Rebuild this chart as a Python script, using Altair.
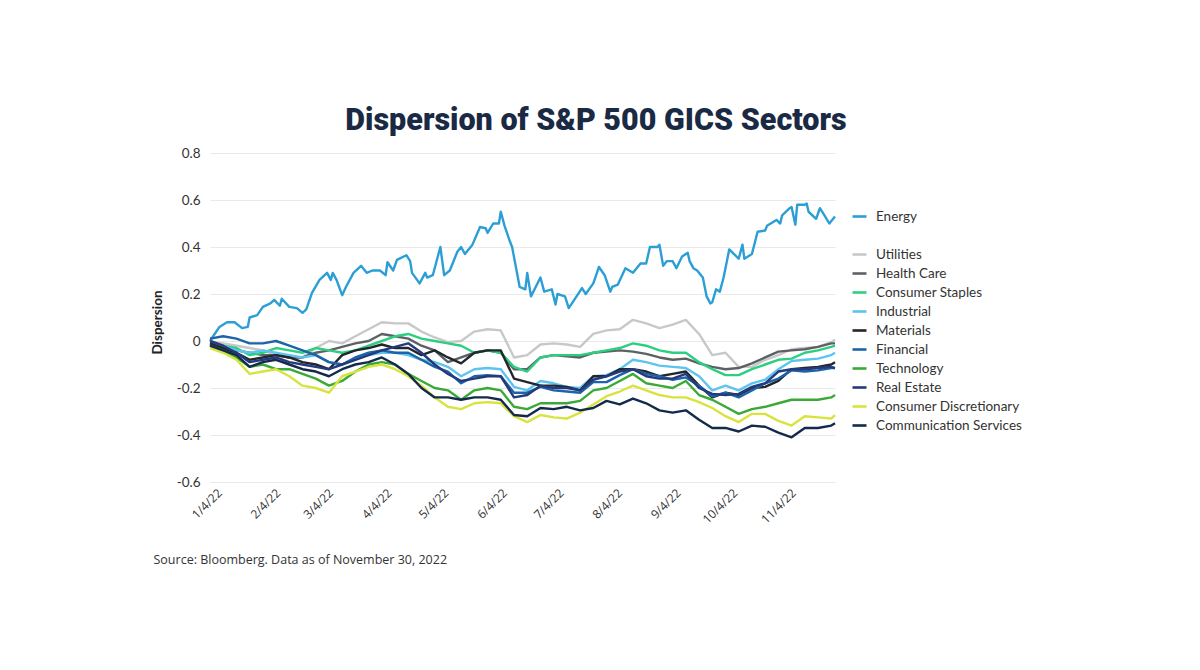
import altair as alt
import pandas as pd

# ---- Energy: daily-resolution readings ----
energy_dates = [
    "2022-01-03", "2022-01-08", "2022-01-12", "2022-01-16", "2022-01-20", "2022-01-23",
    "2022-01-24", "2022-01-28", "2022-01-31", "2022-02-04", "2022-02-06", "2022-02-09",
    "2022-02-10", "2022-02-14", "2022-02-18", "2022-02-21", "2022-02-23", "2022-02-26",
    "2022-03-02", "2022-03-06", "2022-03-08", "2022-03-09", "2022-03-11", "2022-03-14",
    "2022-03-16", "2022-03-20", "2022-03-24", "2022-03-27", "2022-03-30", "2022-04-03",
    "2022-04-06", "2022-04-07", "2022-04-10", "2022-04-12", "2022-04-17", "2022-04-19",
    "2022-04-20", "2022-04-24", "2022-04-27", "2022-04-28", "2022-05-01", "2022-05-04",
    "2022-05-05", "2022-05-07", "2022-05-10", "2022-05-14", "2022-05-16", "2022-05-18",
    "2022-05-22", "2022-05-26", "2022-05-29", "2022-05-30", "2022-06-02", "2022-06-05",
    "2022-06-06", "2022-06-08", "2022-06-11", "2022-06-12", "2022-06-16", "2022-06-19",
    "2022-06-20", "2022-06-22", "2022-06-27", "2022-06-29", "2022-07-03", "2022-07-05",
    "2022-07-06", "2022-07-10", "2022-07-12", "2022-07-19", "2022-07-21", "2022-07-25",
    "2022-07-28", "2022-07-31", "2022-08-03", "2022-08-04", "2022-08-07", "2022-08-11",
    "2022-08-15", "2022-08-19", "2022-08-22", "2022-08-24", "2022-08-28", "2022-08-29",
    "2022-08-31", "2022-09-02", "2022-09-05", "2022-09-07", "2022-09-10", "2022-09-13",
    "2022-09-14", "2022-09-16", "2022-09-18", "2022-09-21", "2022-09-23", "2022-09-25",
    "2022-09-26", "2022-09-28", "2022-09-30", "2022-10-02", "2022-10-05", "2022-10-10",
    "2022-10-12", "2022-10-13", "2022-10-17", "2022-10-20", "2022-10-24", "2022-10-25",
    "2022-10-30", "2022-11-01", "2022-11-02", "2022-11-06", "2022-11-07", "2022-11-09",
    "2022-11-10", "2022-11-14", "2022-11-15", "2022-11-16", "2022-11-20", "2022-11-22",
    "2022-11-24", "2022-11-27", "2022-11-30",
]
energy = [
    0.00, 0.06, 0.08, 0.08, 0.055, 0.06,
    0.10, 0.11, 0.145, 0.16, 0.175, 0.15,
    0.18, 0.145, 0.14, 0.12, 0.135, 0.205,
    0.26, 0.29, 0.26, 0.29, 0.26, 0.195,
    0.23, 0.29, 0.32, 0.29, 0.30, 0.30,
    0.28, 0.335, 0.30, 0.345, 0.365, 0.34,
    0.29, 0.245, 0.29, 0.27, 0.28, 0.37,
    0.40, 0.28, 0.30, 0.38, 0.40, 0.37,
    0.41, 0.485, 0.48, 0.46, 0.50, 0.50,
    0.55, 0.49, 0.42, 0.40, 0.23, 0.22,
    0.29, 0.19, 0.27, 0.21, 0.22, 0.155,
    0.20, 0.19, 0.14, 0.225, 0.20, 0.245,
    0.315, 0.28, 0.21, 0.23, 0.24, 0.31,
    0.29, 0.33, 0.33, 0.40, 0.40, 0.41,
    0.32, 0.34, 0.34, 0.31, 0.36, 0.375,
    0.34, 0.31, 0.30, 0.27, 0.19, 0.16,
    0.165, 0.22, 0.21, 0.27, 0.39, 0.35,
    0.41, 0.35, 0.37, 0.465, 0.47, 0.49,
    0.515, 0.50, 0.535, 0.565, 0.57, 0.495,
    0.58, 0.58, 0.585, 0.55, 0.52, 0.565,
    0.54, 0.50, 0.53,
]

# ---- Other sectors: weekly readings ----
week_dates = [
    "2022-01-03", "2022-01-10", "2022-01-17", "2022-01-24", "2022-01-31",
    "2022-02-07", "2022-02-14", "2022-02-21", "2022-02-28", "2022-03-07",
    "2022-03-14", "2022-03-21", "2022-03-28", "2022-04-04", "2022-04-11",
    "2022-04-18", "2022-04-25", "2022-05-02", "2022-05-09", "2022-05-16",
    "2022-05-23", "2022-05-30", "2022-06-06", "2022-06-13", "2022-06-20",
    "2022-06-27", "2022-07-04", "2022-07-11", "2022-07-18", "2022-07-25",
    "2022-08-01", "2022-08-08", "2022-08-15", "2022-08-22", "2022-08-29",
    "2022-09-05", "2022-09-12", "2022-09-19", "2022-09-26", "2022-10-03",
    "2022-10-10", "2022-10-17", "2022-10-24", "2022-10-31", "2022-11-07",
    "2022-11-14", "2022-11-21", "2022-11-28", "2022-11-30",
]
utilities = [
    0.00, -0.01, -0.02, -0.03, -0.04, -0.06, -0.07, -0.07, -0.03, 0.00,
    -0.01, 0.02, 0.05, 0.08, 0.075, 0.075, 0.04, 0.015, -0.005, 0.00,
    0.04, 0.05, 0.045, -0.07, -0.06, -0.015, -0.01, -0.015, -0.025, 0.03,
    0.045, 0.05, 0.09, 0.075, 0.055, 0.07, 0.09, 0.03, -0.06, -0.05,
    -0.11, -0.11, -0.08, -0.06, -0.035, -0.03, -0.025, -0.005, 0.005,
]
health_care = [
    -0.01, -0.03, -0.04, -0.05, -0.06, -0.06, -0.07, -0.07, -0.05, -0.04,
    -0.025, -0.01, 0.00, 0.03, 0.02, 0.01, -0.02, -0.04, -0.09, -0.07,
    -0.05, -0.04, -0.05, -0.12, -0.12, -0.07, -0.06, -0.065, -0.07, -0.05,
    -0.045, -0.04, -0.045, -0.055, -0.07, -0.08, -0.075, -0.095, -0.11, -0.12,
    -0.115, -0.095, -0.07, -0.045, -0.04, -0.035, -0.025, -0.01, -0.01,
]
consumer_staples = [
    -0.02, -0.02, -0.03, -0.06, -0.05, -0.03, -0.04, -0.05, -0.03, -0.04,
    -0.05, -0.04, -0.02, 0.00, 0.02, 0.03, 0.01, 0.00, -0.01, -0.02,
    -0.05, -0.04, -0.05, -0.11, -0.13, -0.07, -0.06, -0.06, -0.06, -0.05,
    -0.04, -0.03, -0.01, -0.02, -0.04, -0.05, -0.05, -0.09, -0.12, -0.145,
    -0.145, -0.12, -0.10, -0.08, -0.075, -0.05, -0.04, -0.025, -0.02,
]
industrial = [
    -0.01, -0.02, -0.04, -0.05, -0.04, -0.05, -0.06, -0.07, -0.06, -0.09,
    -0.10, -0.07, -0.06, -0.05, -0.05, -0.06, -0.08, -0.09, -0.11, -0.15,
    -0.12, -0.115, -0.12, -0.195, -0.21, -0.17, -0.18, -0.195, -0.20, -0.15,
    -0.145, -0.12, -0.08, -0.09, -0.105, -0.11, -0.115, -0.15, -0.21, -0.19,
    -0.21, -0.18, -0.165, -0.12, -0.085, -0.08, -0.075, -0.06, -0.05,
]
materials = [
    -0.01, -0.03, -0.05, -0.08, -0.07, -0.06, -0.07, -0.09, -0.10, -0.12,
    -0.06, -0.04, -0.03, -0.015, -0.03, -0.03, -0.06, -0.04, -0.07, -0.095,
    -0.05, -0.04, -0.04, -0.16, -0.175, -0.19, -0.19, -0.195, -0.21, -0.15,
    -0.15, -0.12, -0.12, -0.13, -0.15, -0.14, -0.13, -0.19, -0.24, -0.22,
    -0.23, -0.20, -0.195, -0.17, -0.12, -0.115, -0.11, -0.10, -0.09,
]
financial = [
    0.01, 0.02, 0.01, -0.01, -0.01, 0.00, -0.02, -0.04, -0.06, -0.09,
    -0.10, -0.07, -0.05, -0.04, -0.05, -0.05, -0.08, -0.11, -0.13, -0.18,
    -0.15, -0.145, -0.15, -0.22, -0.22, -0.195, -0.21, -0.215, -0.22, -0.175,
    -0.175, -0.145, -0.12, -0.14, -0.15, -0.165, -0.155, -0.19, -0.235, -0.22,
    -0.24, -0.21, -0.18, -0.16, -0.125, -0.13, -0.125, -0.115, -0.115,
]
technology = [
    -0.02, -0.04, -0.07, -0.11, -0.10, -0.12, -0.12, -0.14, -0.16, -0.19,
    -0.17, -0.13, -0.10, -0.09, -0.10, -0.14, -0.17, -0.20, -0.21, -0.25,
    -0.21, -0.20, -0.21, -0.28, -0.29, -0.265, -0.265, -0.265, -0.255, -0.21,
    -0.20, -0.17, -0.14, -0.18, -0.19, -0.20, -0.17, -0.23, -0.25, -0.28,
    -0.31, -0.29, -0.28, -0.265, -0.25, -0.25, -0.25, -0.24, -0.23,
]
real_estate = [
    0.00, -0.02, -0.05, -0.09, -0.08, -0.07, -0.09, -0.10, -0.11, -0.12,
    -0.10, -0.08, -0.06, -0.04, -0.025, -0.01, -0.05, -0.10, -0.14, -0.17,
    -0.16, -0.15, -0.15, -0.24, -0.23, -0.19, -0.20, -0.20, -0.21, -0.165,
    -0.15, -0.13, -0.12, -0.15, -0.16, -0.16, -0.14, -0.20, -0.225, -0.23,
    -0.225, -0.195, -0.18, -0.13, -0.12, -0.12, -0.115, -0.11, -0.115,
]
consumer_discretionary = [
    -0.03, -0.05, -0.08, -0.14, -0.13, -0.12, -0.15, -0.19, -0.20, -0.22,
    -0.15, -0.13, -0.11, -0.10, -0.12, -0.15, -0.19, -0.24, -0.28, -0.29,
    -0.265, -0.26, -0.265, -0.32, -0.345, -0.315, -0.325, -0.33, -0.305, -0.27,
    -0.235, -0.215, -0.19, -0.21, -0.23, -0.24, -0.24, -0.26, -0.285, -0.32,
    -0.345, -0.31, -0.31, -0.34, -0.36, -0.32, -0.325, -0.33, -0.315,
]
communication_services = [
    -0.02, -0.04, -0.06, -0.11, -0.09, -0.08, -0.10, -0.12, -0.13, -0.15,
    -0.12, -0.10, -0.09, -0.07, -0.10, -0.14, -0.20, -0.24, -0.24, -0.25,
    -0.24, -0.24, -0.25, -0.315, -0.32, -0.285, -0.29, -0.28, -0.295, -0.285,
    -0.255, -0.27, -0.245, -0.265, -0.295, -0.305, -0.295, -0.335, -0.37, -0.37,
    -0.385, -0.36, -0.365, -0.39, -0.41, -0.37, -0.37, -0.36, -0.35,
]

weekly_series = {
    "Utilities": utilities,
    "Health Care": health_care,
    "Consumer Staples": consumer_staples,
    "Industrial": industrial,
    "Materials": materials,
    "Financial": financial,
    "Technology": technology,
    "Real Estate": real_estate,
    "Consumer Discretionary": consumer_discretionary,
    "Communication Services": communication_services,
}

# Legend order; the blank entry opens a gap under "Energy"
legend_order = ["Energy", " ", "Utilities", "Health Care", "Consumer Staples",
                "Industrial", "Materials", "Financial", "Technology", "Real Estate",
                "Consumer Discretionary", "Communication Services"]
legend_colors = ["#2b9fd5", "transparent", "#c8c8c8", "#5d6166", "#2ccf80",
                 "#5ec4ef", "#23272b", "#1d63a8", "#3aa935", "#243a7c",
                 "#d9e33e", "#132a4c"]

tick_dates = ["2022-01-04", "2022-02-04", "2022-03-04", "2022-04-04", "2022-05-04",
              "2022-06-04", "2022-07-04", "2022-08-04", "2022-09-04", "2022-10-04",
              "2022-11-04"]
y_ticks = [-0.6, -0.4, -0.2, 0, 0.2, 0.4, 0.6, 0.8]

rows = [{"date": d, "value": v, "sector": "Energy"} for d, v in zip(energy_dates, energy)]
for name, vals in weekly_series.items():
    rows += [{"date": d, "value": v, "sector": name} for d, v in zip(week_dates, vals)]
df = pd.DataFrame(rows)


def utc_dt(s):
    y, m, d = (int(p) for p in s.split("-"))
    return alt.DateTime(year=y, month=m, date=d, utc=True)


label_font = "Lato"

chart = (
    alt.Chart(df)
    .mark_line(strokeWidth=2.4, strokeJoin="round")
    .encode(
        x=alt.X(
            "date:T",
            scale=alt.Scale(type="utc", domain=[utc_dt("2022-01-03"), utc_dt("2022-11-30")]),
            axis=alt.Axis(
                values=[utc_dt(t) for t in tick_dates],
                labelExpr="utcFormat(datum.value, '%-m/%-d/%y')",
                labelAngle=-45,
                labelFont="Open Sans",
                labelFontSize=12,
                labelColor="#333333",
                labelPadding=5,
                labelOffset=4,
                grid=False,
                ticks=False,
                domain=False,
                title="Source: Bloomberg. Data as of November 30, 2022",
                titleFont="Open Sans",
                titleFontSize=12.5,
                titleFontWeight="normal",
                titleColor="#333333",
                titleAnchor="start",
                titleAlign="left",
                titleBaseline="top",
                titleX=-57,
                titleY=71,
            ),
        ),
        y=alt.Y(
            "value:Q",
            scale=alt.Scale(domain=[-0.6, 0.8], nice=False),
            axis=alt.Axis(
                values=y_ticks,
                labelExpr="datum.value == 0 ? '0' : '' + round(datum.value * 10) / 10",
                labelFont=label_font,
                labelFontSize=13.5,
                labelColor="#333333",
                labelPadding=10,
                grid=True,
                gridColor="#e9e9e9",
                gridWidth=1,
                ticks=False,
                domain=False,
                title="Dispersion",
                titleFont=label_font,
                titleFontSize=13.5,
                titleFontWeight="bold",
                titleColor="#222222",
                titleX=-53,
                titleY=169,
                titleAngle=-90,
                titleAlign="center",
                titleBaseline="middle",
            ),
        ),
        color=alt.Color(
            "sector:N",
            scale=alt.Scale(domain=legend_order, range=legend_colors),
            legend=alt.Legend(
                title=None,
                orient="none",
                legendX=641,
                legendY=55,
                symbolType="stroke",
                symbolStrokeWidth=2.6,
                symbolSize=196,
                labelFont=label_font,
                labelFontSize=13.5,
                labelColor="#333333",
                labelOffset=8,
                rowPadding=4.0,
            ),
        ),
    )
    .properties(
        width=625,
        height=329,
        background="white",
        autosize=alt.AutoSizeParams(type="none"),
        padding={"left": 210, "top": 153, "right": 365, "bottom": 188},
        title=alt.Title(
            "Dispersion of S&P 500 GICS Sectors",
            font="Roboto",
            fontSize=30.5,
            fontWeight=900,
            color="#1b2a44",
            anchor="middle",
            frame="bounds",
            offset=10,
            dx=10,
        ),
    )
    .configure_view(stroke=None, strokeWidth=0)
)

chart.save("out.html", embed_options={"renderer": "svg", "actions": False})
